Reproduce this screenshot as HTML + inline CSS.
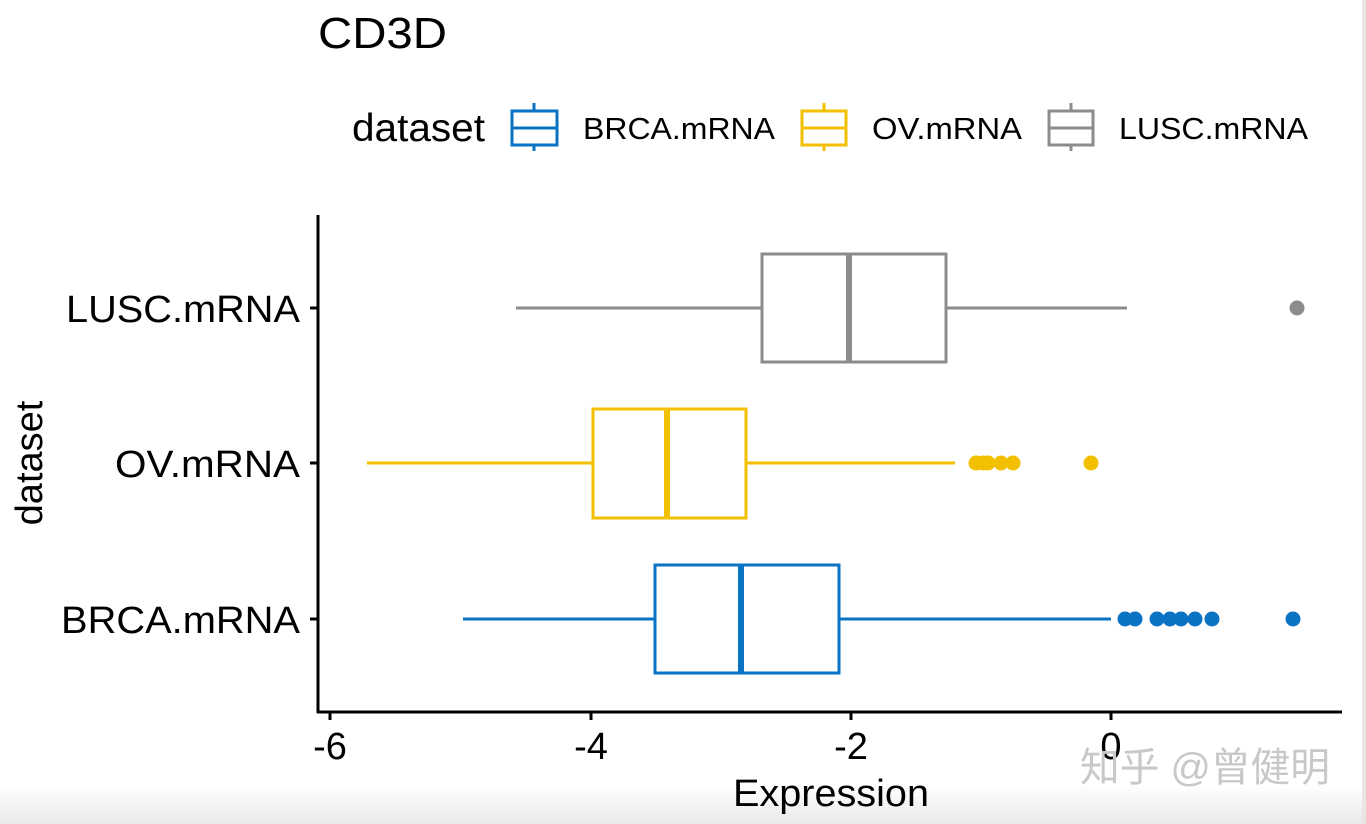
<!DOCTYPE html>
<html><head><meta charset="utf-8"><style>
html,body{margin:0;padding:0;background:#fff;width:1366px;height:824px;overflow:hidden}
svg{display:block}
text{font-family:"Liberation Sans",Arial,sans-serif}
</style></head><body>
<svg width="1366" height="824" viewBox="0 0 1366 824">
<defs><linearGradient id="g" x1="0" y1="0" x2="0" y2="1"><stop offset="0" stop-color="#fff"/><stop offset="1" stop-color="#e9e9e9"/></linearGradient></defs>
<rect width="1366" height="824" fill="#fff"/>
<rect x="0" y="785" width="1366" height="39" fill="url(#g)"/>
<rect x="1362" y="0" width="4" height="824" fill="#e6e6e6"/>
<text x="318" y="48" font-size="44" textLength="129" lengthAdjust="spacingAndGlyphs">CD3D</text>
<text x="352" y="141" font-size="39" textLength="133" lengthAdjust="spacingAndGlyphs">dataset</text>
<g stroke-width="3" fill="#fff">
<g stroke="#0a73c4"><line x1="534" y1="103" x2="534" y2="151"/><rect x="512" y="111" width="45" height="34"/><line x1="512" y1="128" x2="557" y2="128"/></g>
<g stroke="#f2c000"><line x1="824" y1="103" x2="824" y2="151"/><rect x="802" y="111" width="44" height="34"/><line x1="802" y1="128" x2="846" y2="128"/></g>
<g stroke="#8c8c8c"><line x1="1071" y1="103" x2="1071" y2="151"/><rect x="1049" y="111" width="44" height="34"/><line x1="1049" y1="128" x2="1093" y2="128"/></g>
</g>
<text x="583" y="139" font-size="31" textLength="192" lengthAdjust="spacingAndGlyphs">BRCA.mRNA</text>
<text x="872" y="139" font-size="31" textLength="150" lengthAdjust="spacingAndGlyphs">OV.mRNA</text>
<text x="1119" y="139" font-size="31" textLength="189" lengthAdjust="spacingAndGlyphs">LUSC.mRNA</text>
<g stroke="#000" stroke-width="3">
<line x1="318" y1="215" x2="318" y2="713"/><line x1="317" y1="712" x2="1342" y2="712"/>
<line x1="310" y1="308" x2="318" y2="308"/><line x1="310" y1="463" x2="318" y2="463"/><line x1="310" y1="619" x2="318" y2="619"/>
<line x1="330" y1="712" x2="330" y2="720"/><line x1="591" y1="712" x2="591" y2="720"/><line x1="851" y1="712" x2="851" y2="720"/><line x1="1111" y1="712" x2="1111" y2="720"/>
</g>
<g font-size="38" text-anchor="end">
<text x="300" y="322" textLength="234" lengthAdjust="spacingAndGlyphs">LUSC.mRNA</text>
<text x="300" y="477" textLength="185" lengthAdjust="spacingAndGlyphs">OV.mRNA</text>
<text x="300" y="633" textLength="239" lengthAdjust="spacingAndGlyphs">BRCA.mRNA</text>
</g>
<g font-size="38" text-anchor="middle">
<text x="330" y="759">-6</text><text x="591" y="759">-4</text><text x="851" y="759">-2</text><text x="1111" y="759">0</text>
<text x="831" y="806" textLength="196" lengthAdjust="spacingAndGlyphs">Expression</text>
</g>
<text transform="translate(42,463) rotate(-90)" font-size="38" text-anchor="middle">dataset</text>
<g stroke="#8c8c8c" stroke-width="3" fill="#fff">
<line x1="516" y1="308" x2="762" y2="308"/><line x1="946" y1="308" x2="1127" y2="308"/>
<rect x="762" y="254" width="184" height="108"/><line x1="849" y1="254" x2="849" y2="362" stroke-width="6"/>
</g>
<circle cx="1297" cy="308" r="7.5" fill="#8c8c8c"/>
<g stroke="#f2c000" stroke-width="3" fill="#fff">
<line x1="367" y1="463" x2="593" y2="463"/><line x1="746" y1="463" x2="955" y2="463"/>
<rect x="593" y="409" width="153" height="109"/><line x1="667" y1="409" x2="667" y2="518" stroke-width="6"/>
</g>
<g fill="#f2c000"><circle cx="976" cy="463" r="7.5"/><circle cx="983" cy="463" r="7.5"/><circle cx="988" cy="463" r="7.5"/><circle cx="1001" cy="463" r="7.5"/><circle cx="1013" cy="463" r="7.5"/><circle cx="1091" cy="463" r="7.5"/></g>
<g stroke="#0a73c4" stroke-width="3" fill="#fff">
<line x1="463" y1="619" x2="655" y2="619"/><line x1="839" y1="619" x2="1111" y2="619"/>
<rect x="655" y="565" width="184" height="108"/><line x1="741" y1="565" x2="741" y2="673" stroke-width="6"/>
</g>
<g fill="#0a73c4"><circle cx="1125" cy="619" r="7.5"/><circle cx="1135" cy="619" r="7.5"/><circle cx="1157" cy="619" r="7.5"/><circle cx="1170" cy="619" r="7.5"/><circle cx="1181" cy="619" r="7.5"/><circle cx="1195" cy="619" r="7.5"/><circle cx="1212" cy="619" r="7.5"/><circle cx="1293" cy="619" r="7.5"/></g>
<text x="1080" y="781" font-size="40" fill="#c8c8c8" font-family="'Liberation Sans','Noto Sans CJK SC',sans-serif" textLength="250" lengthAdjust="spacingAndGlyphs">知乎 @曾健明</text>
</svg>
</body></html>
